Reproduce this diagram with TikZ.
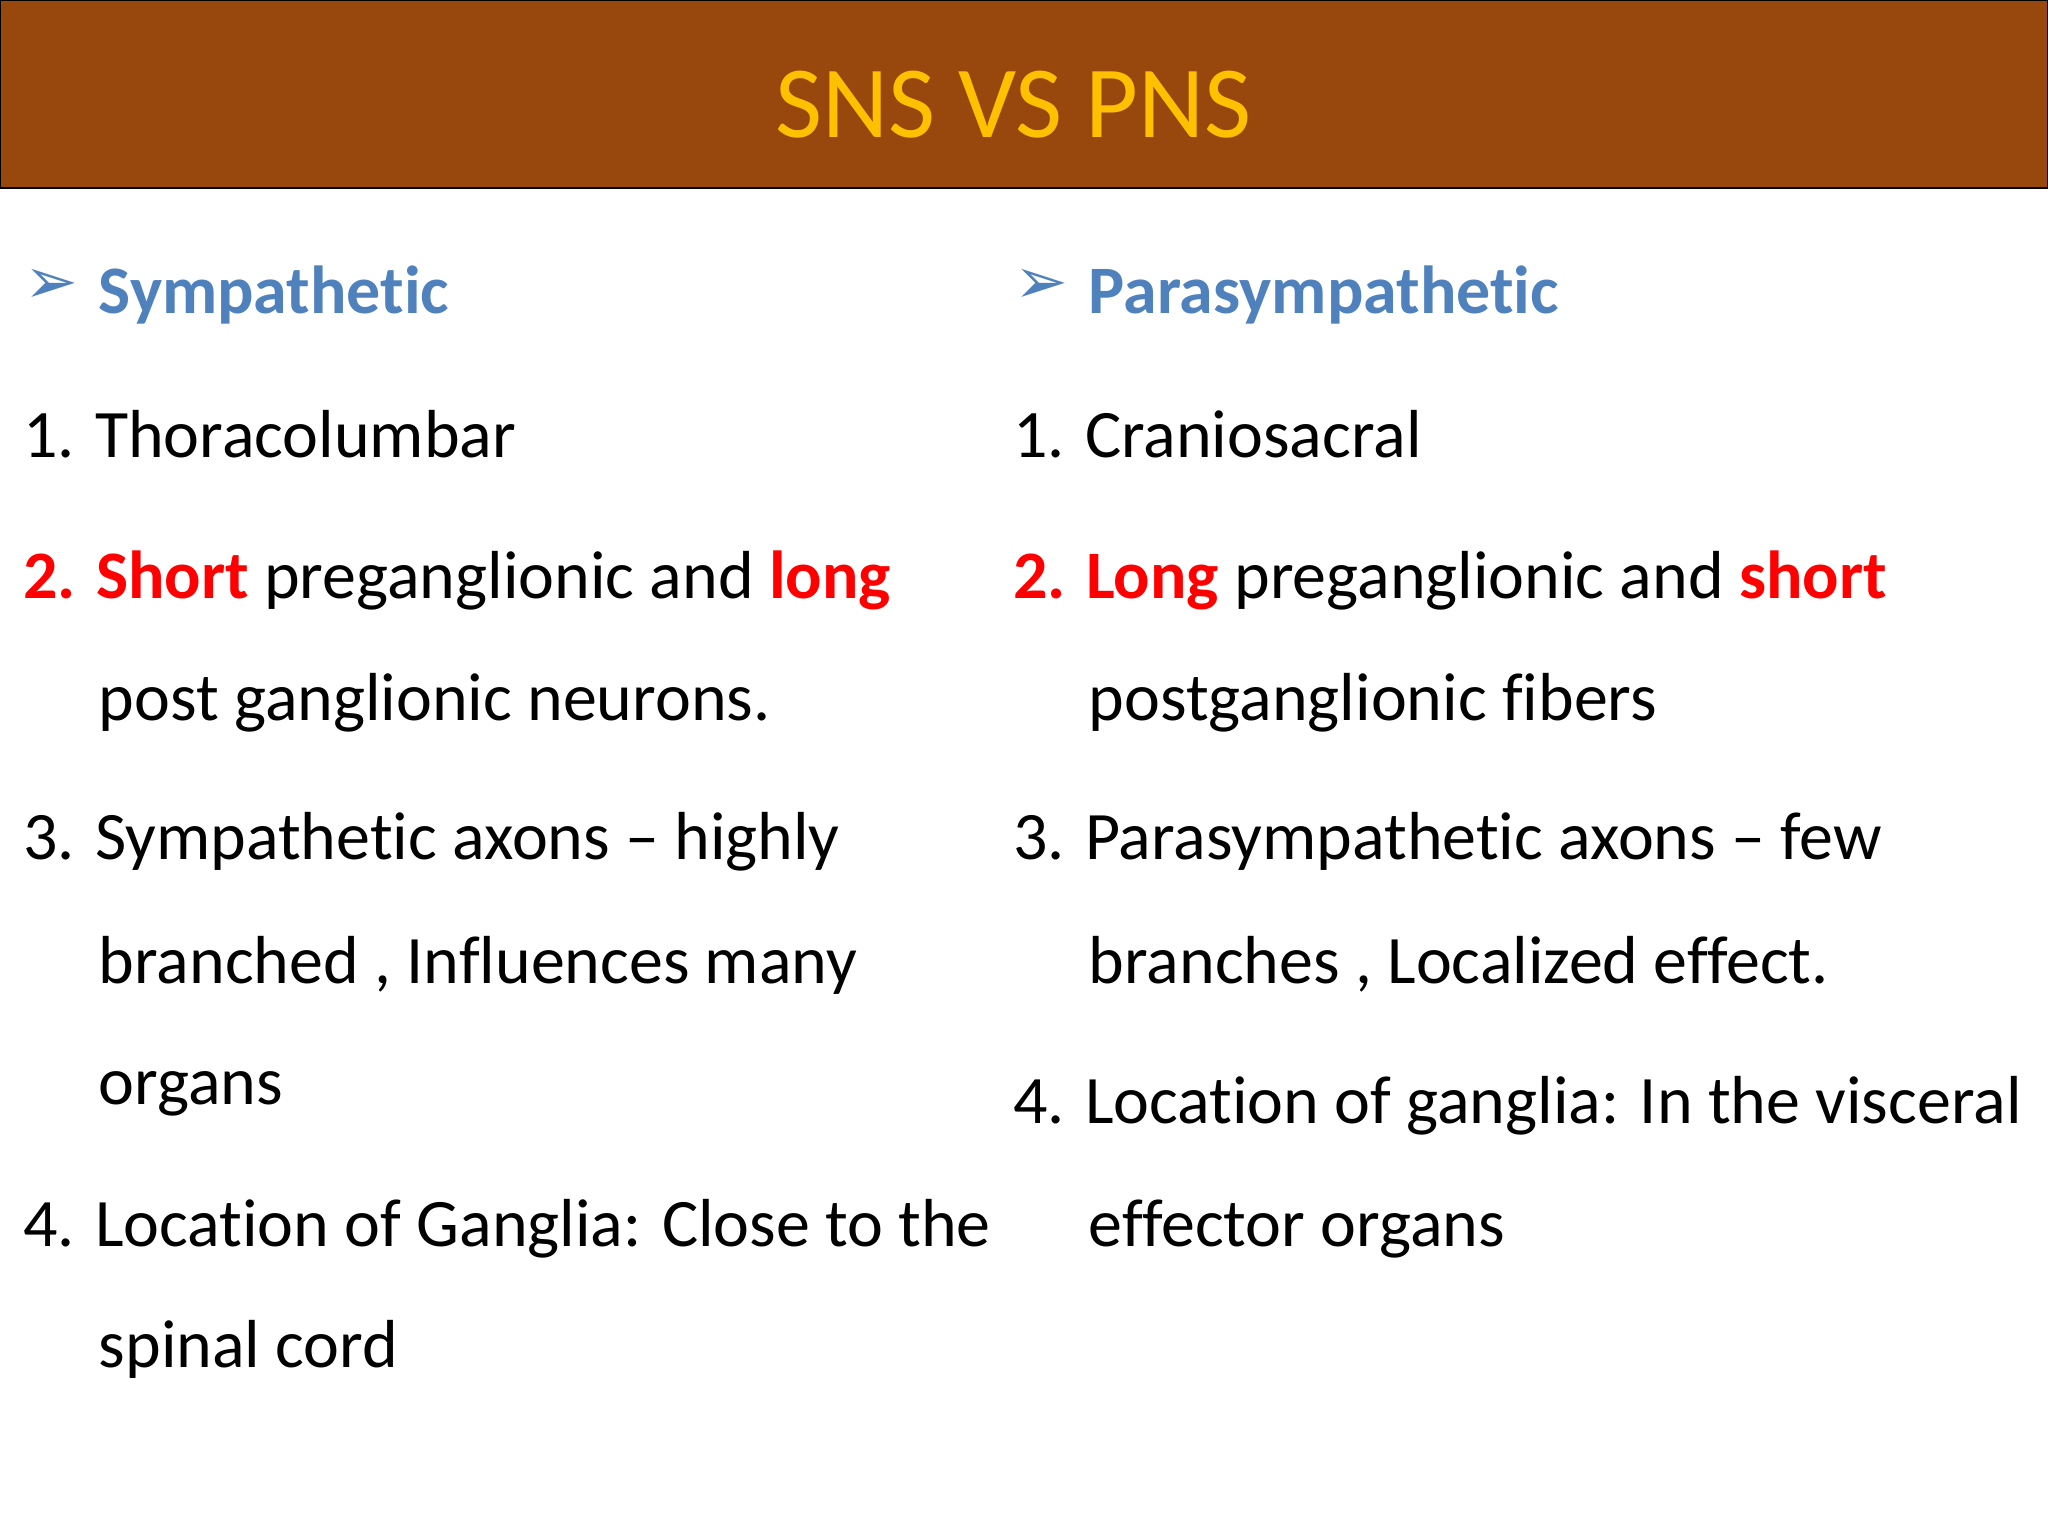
\documentclass[tikz,border=0pt]{standalone}
\usepackage{fontspec}
\setmainfont[RawFeature=-liga]{Carlito}
\newfontfamily\symfont{DejaVu Sans}
\definecolor{barbrown}{HTML}{98480C}
\definecolor{titleyellow}{HTML}{FFC000}
\definecolor{headblue}{HTML}{4F81BD}
\definecolor{hired}{HTML}{FF0000}
\begin{document}
\begin{tikzpicture}[x=0.1mm,y=-0.1mm,
  txt/.style={anchor=base west,inner sep=0pt,font=\fontsize{14.8pt}{18pt}\selectfont},
  head/.style={txt,font=\fontsize{14.8pt}{18pt}\selectfont\bfseries,text=headblue},
  bul/.style={anchor=base west,inner sep=0pt,text=headblue,font=\fontsize{14pt}{16pt}\symfont}]
\useasboundingbox (0,0) rectangle (1568,1176);
\fill[white] (0,0) rectangle (1568,1176);
\draw[fill=barbrown,draw=black,line width=0.6pt] (0,0) rectangle (1568,144);
\node[inner sep=0pt,text=titleyellow,font=\fontsize{22.3pt}{26pt}\selectfont] (title) at (776,80) {SNS VS PNS};
% left
\node[bul] (lb) at (18,232) {➢};
\node[head] (lh) at (75,240) {Sympathetic};
\node[txt] (l1) at (17,350) {1. Thoracolumbar};
\node[txt] (l2) at (17,458) {\textcolor{hired}{\bfseries 2. Short} preganglionic and \textcolor{hired}{\bfseries long}};
\node[txt] (l2b) at (75,552) {post ganglionic neurons.};
\node[txt] (l3) at (17,658) {3. Sympathetic axons -- highly};
\node[txt] (l3b) at (75,753) {branched , Influences many};
\node[txt] (l3c) at (75,846) {organs};
\node[txt] (l4) at (17,954) {4. Location of Ganglia: Close to the};
\node[txt] (l4b) at (75,1047) {spinal cord};
% right
\node[bul] (rb) at (776,232) {➢};
\node[head] (rh) at (833,240) {Parasympathetic};
\node[txt] (r1) at (775,350) {1. Craniosacral};
\node[txt] (r2) at (775,458) {\textcolor{hired}{\bfseries 2. Long} preganglionic and \textcolor{hired}{\bfseries short}};
\node[txt] (r2b) at (833,552) {postganglionic fibers};
\node[txt] (r3) at (775,658) {3. Parasympathetic axons -- few};
\node[txt] (r3b) at (833,753) {branches , Localized effect.};
\node[txt] (r4) at (775,860) {4. Location of ganglia: In the visceral};
\node[txt] (r4b) at (833,954) {effector organs};
\end{tikzpicture}
\end{document}
